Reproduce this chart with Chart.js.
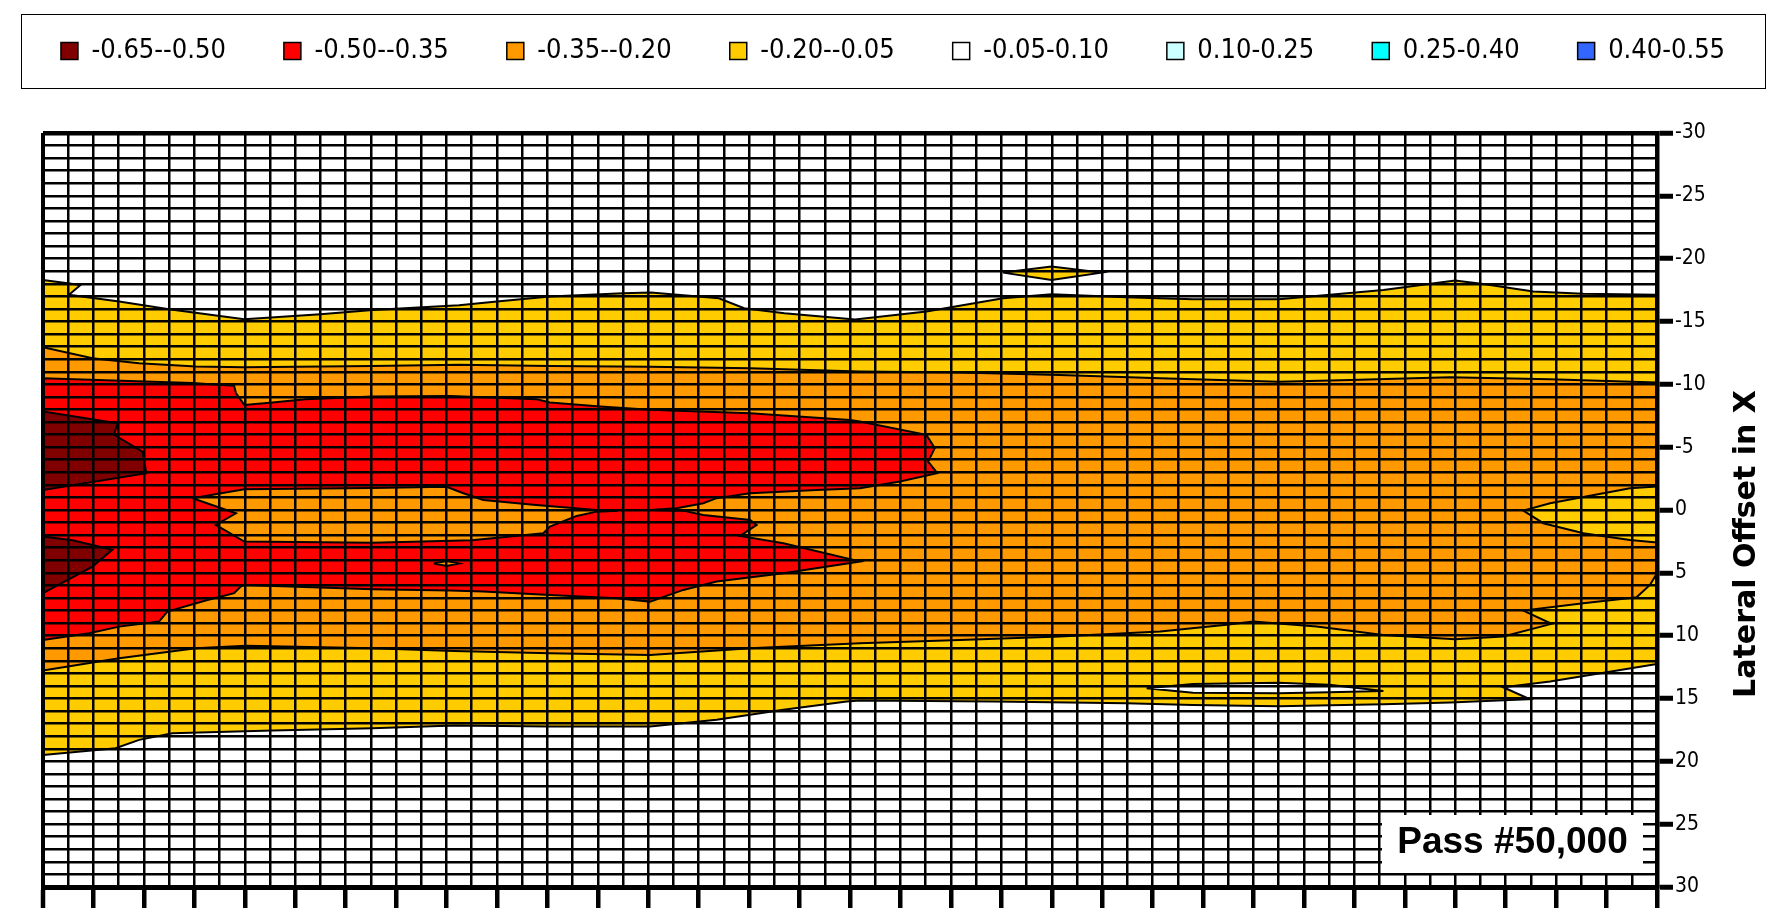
<!DOCTYPE html>
<html>
<head>
<meta charset="utf-8">
<title>Pass #50,000 - Lateral Offset in X</title>
<script src="https://cdn.jsdelivr.net/npm/chart.js@4.4.1/dist/chart.umd.min.js"></script>
<style>
  html, body { margin: 0; padding: 0; background: #ffffff; }
  canvas { display: block; }
</style>
</head>
<body>
<canvas id="contourChart" width="1786" height="908"></canvas>
<script>
// ==========================================
// Data
// ==========================================

// Contour bands shown in the legend
const bandLabels = ['-0.65--0.50', '-0.50--0.35', '-0.35--0.20', '-0.20--0.05',
                    '-0.05-0.10', '0.10-0.25', '0.25-0.40', '0.40-0.55'];

// Axis texts
const yTitle = 'Lateral Offset in X';
const passLabel = 'Pass #50,000';
const yTickLabels = [-30, -25, -20, -15, -10, -5, 0, 5, 10, 15, 20, 25, 30];

// Contour outlines as [column, lateral offset] pairs (column 0..64)
const yellowBand = [
    [0, -18.31], [1.49, -17.91], [1.03, -17.12], [3.02, -16.59], [5.0, -15.98], [7.98, -15.18],
    [11.0, -15.58], [13.07, -15.92], [16.5, -16.3], [18.0, -16.6], [20.1, -16.98], [23.0, -17.25],
    [24.1, -17.3], [26.8, -16.85], [27.8, -16.06], [29.4, -15.66], [32.2, -15.15], [35.03, -15.79],
    [38.07, -16.85], [39.99, -17.17], [42.96, -16.93], [45.6, -16.77], [49.0, -16.77], [51.03, -17.12],
    [53.15, -17.51], [55.99, -18.26], [57.11, -17.99], [59.1, -17.38], [61.08, -17.2], [64, -17.12],
    [64, 12.25], [59.76, 13.65], [57.9, 14.1], [58.96, 15.06], [55.8, 15.32], [53.15, 15.45],
    [49.0, 15.62], [45.6, 15.51], [42.96, 15.38], [37.68, 15.24], [32.39, 15.16], [31.87, 15.24],
    [29.36, 15.9], [26.71, 16.7], [24.07, 17.23], [20.1, 17.23], [16.3, 17.15], [13.07, 17.37],
    [9.1, 17.55], [5.13, 17.76], [3.81, 18.29], [2.88, 18.96], [0, 19.49]
];

const orangeBand = [
    [0, -12.95], [1.96, -12.08], [3.81, -11.68], [6.06, -11.41], [7.98, -11.36], [13.07, -11.45],
    [16.5, -11.55], [20.1, -11.45], [24.07, -11.4], [28.04, -11.28], [32.39, -11.02], [36.35, -10.94],
    [40.32, -10.75], [44.3, -10.49], [49.0, -10.2], [51.83, -10.35], [55.79, -10.56], [59.76, -10.41],
    [64, -10.14],
    [64, -1.87], [62.93, -1.73], [59.76, -0.54], [58.7, 0.05], [59.49, 1.05], [61.08, 1.85],
    [62.93, 2.38], [64, 2.59],
    [64, 5.03], [63.72, 5.96], [63.19, 6.94], [61.08, 7.42], [58.7, 8.0], [59.82, 9.06], [57.9, 10.07],
    [55.99, 10.28], [53.15, 9.94], [50.5, 9.28], [47.99, 8.88], [46.93, 9.14], [44.3, 9.67],
    [40.32, 10.07], [36.35, 10.34], [32.39, 10.6], [28.04, 11.0], [24.07, 11.53], [20.1, 11.4],
    [16.3, 11.22], [13.07, 11.0], [8.05, 10.81], [6.06, 11.0], [3.02, 11.8], [0, 12.78]
];

const redBand = [
    [0, -10.49], [5.93, -10.1], [7.58, -9.88], [7.65, -9.3], [7.98, -8.36], [9.1, -8.55], [10.4, -8.81],
    [13.07, -9.03], [16.14, -9.08], [19.58, -8.81], [20.1, -8.55], [22.09, -8.23], [24.07, -7.97],
    [28.04, -7.7], [32.0, -7.17], [32.39, -7.04], [35.03, -5.98], [35.36, -4.92], [35.1, -3.85],
    [35.46, -2.93], [33.98, -2.26], [32.39, -1.73], [30.68, -1.6], [28.04, -1.33], [26.71, -0.94],
    [26.18, -0.54], [25.13, -0.14], [24.07, 0.0],
    [25.39, 0.05], [26.18, 0.39], [28.04, 0.79], [28.3, 1.19], [27.64, 2.06], [29.36, 2.64], [32.4, 4.1],
    [29.36, 5.03], [26.71, 5.69], [25.39, 6.36], [24.07, 7.29], [22.75, 7.02], [20.1, 6.76],
    [17.46, 6.49], [16.14, 6.4], [13.07, 6.3], [7.98, 5.96], [7.84, 6.09], [7.58, 6.62], [6.45, 7.2],
    [4.93, 8.08], [4.6, 8.88], [3.02, 9.28], [1.83, 9.8], [0, 10.34]
];

const orangeIsland = [
    [5.93, -0.94], [7.98, -1.65], [13.07, -1.75], [16.0, -1.85], [16.67, -1.33], [17.46, -0.8],
    [19.44, -0.41], [21.95, 0.0], [22.8, 0.05], [21.95, 0.13], [21.16, 0.47], [20.1, 1.32],
    [19.84, 1.85], [17.0, 2.4], [13.07, 2.6], [7.98, 2.51], [6.85, 1.19], [7.65, 0.26]
];

const orangeSpot = [[15.5, 4.25], [16.0, 4.05], [16.5, 4.25], [16.0, 4.45]];

const darkRedUpper = [[0, -7.83], [2.0, -7.2], [2.95, -6.9], [2.82, -5.98], [3.94, -4.65], [4.1, -2.93], [0, -1.6]];
const darkRedLower = [[0, 2.11], [1.17, 2.4], [2.75, 3.17], [1.96, 4.5], [0, 6.62]];

const yellowIsland = [[38.07, -18.89], [39.99, -19.37], [41.97, -18.89], [39.99, -18.31]];
const whiteLens = [[43.76, 14.18], [45.6, 13.85], [49.0, 13.75], [51.0, 13.9], [53.15, 14.4],
                   [51.0, 14.5], [49.0, 14.58], [45.6, 14.55]];

// ==========================================
// Styles
// ==========================================
const bandColors = ['#800000', '#ff0000', '#ff9900', '#ffcc00', '#ffffff', '#ccffff', '#00ffff', '#3366ff'];
const condensed = '"DejaVu Sans Condensed", "DejaVu Sans", sans-serif';

// Painter's order: first drawn at the bottom
const capas = [
    { puntos: yellowBand, color: bandColors[3] },
    { puntos: orangeBand, color: bandColors[2] },
    { puntos: redBand, color: bandColors[1] },
    { puntos: orangeIsland, color: bandColors[2] },
    { puntos: orangeSpot, color: bandColors[2] },
    { puntos: darkRedUpper, color: bandColors[0] },
    { puntos: darkRedLower, color: bandColors[0] },
    { puntos: yellowIsland, color: bandColors[3] },
    { puntos: whiteLens, color: bandColors[4] }
];

// close the outline so the stroke goes all the way round
const cerrar = pts => pts.concat([pts[0]]).map(([x, y]) => ({ x, y }));

const datasets = capas.map((c, i) => ({
    data: cerrar(c.puntos),
    xAxisID: 'x',
    yAxisID: 'y',
    showLine: true,
    fill: 'shape',
    backgroundColor: c.color,
    borderColor: '#000000',
    borderWidth: 2,
    pointRadius: 0,
    tension: 0,
    order: capas.length - i
}));

// ==========================================
// Extra drawing: legend frame, pass box, rotated title
// ==========================================
const decorPlugin = {
    id: 'decor',
    afterDraw(chart) {
        const { ctx, chartArea, legend } = chart;
        ctx.save();

        // frame around the legend
        const cajas = legend.legendHitBoxes;
        if (cajas && cajas.length) {
            const primero = cajas[0];
            const ultimo = cajas[cajas.length - 1];
            const centroY = primero.top + primero.height / 2;
            const izq = primero.left - 40;
            const der = ultimo.left + ultimo.width + 40;
            ctx.strokeStyle = '#000';
            ctx.lineWidth = 1;
            ctx.strokeRect(Math.round(izq) + 0.5, Math.round(centroY - 37) + 0.5, Math.round(der - izq), 74);
        }

        // "Pass #50,000" box
        const cajaW = 261, cajaH = 58;
        const cx = chartArea.right - 14 - cajaW;
        const cy = chartArea.bottom - 14 - cajaH;
        ctx.fillStyle = '#ffffff';
        ctx.fillRect(cx, cy, cajaW, cajaH);
        ctx.fillStyle = '#000';
        ctx.font = 'bold 37px "Liberation Sans", Arial, sans-serif';
        ctx.textAlign = 'center';
        ctx.textBaseline = 'alphabetic';
        ctx.fillText(passLabel, cx + cajaW / 2, cy + 38);

        // axis title, reading bottom to top
        ctx.translate(chartArea.right + 98, (chartArea.top + chartArea.bottom) / 2 + 34);
        ctx.rotate(-Math.PI / 2);
        ctx.font = 'bold 30px "DejaVu Sans", sans-serif';
        ctx.textAlign = 'center';
        ctx.textBaseline = 'alphabetic';
        ctx.fillText(yTitle, 0, 0);

        ctx.restore();
    }
};

// ==========================================
// Chart
// ==========================================
Chart.defaults.color = '#000';

const chart = new Chart(document.getElementById('contourChart').getContext('2d'), {
    type: 'scatter',
    data: { datasets },
    options: {
        responsive: false,
        animation: false,
        devicePixelRatio: 1,
        layout: { padding: { top: -20.5, left: 0, right: 0, bottom: 0 } },
        plugins: {
            tooltip: { enabled: false },
            legend: {
                position: 'top',
                onClick: null,
                labels: {
                    boxWidth: 17,
                    boxHeight: 17,
                    padding: 58,
                    color: '#000',
                    font: { family: condensed, size: 27 },
                    generateLabels: () => bandLabels.map((texto, i) => ({
                        text: texto,
                        fillStyle: bandColors[i],
                        strokeStyle: '#000',
                        lineWidth: 1.5,
                        hidden: false,
                        index: i
                    }))
                }
            }
        },
        scales: {
            x: {
                type: 'linear',
                position: 'bottom',
                min: 0,
                max: 64,
                ticks: { stepSize: 1, display: false },
                grid: {
                    z: 1,
                    color: '#000',
                    lineWidth: c => (c.tick && c.tick.value === 0 ? 4 : 2.5),
                    drawTicks: true,
                    tickLength: 21,
                    tickWidth: 4.5,
                    tickColor: c => (c.tick && c.tick.value % 2 === 0 ? '#000' : 'rgba(0,0,0,0)')
                },
                border: { display: true, color: '#000', width: 5, z: 2 },
                afterFit: s => { s.height = 21; }
            },
            xTop: {
                type: 'linear',
                axis: 'x',
                position: 'top',
                display: true,
                ticks: { display: false },
                grid: { display: false, drawTicks: false },
                border: { display: false },
                afterFit: s => { s.height = 58.5; }
            },
            yLeft: {
                type: 'linear',
                axis: 'y',
                position: 'left',
                display: true,
                ticks: { display: false },
                grid: { display: false, drawTicks: false },
                border: { display: false },
                afterFit: s => { s.width = 43; }
            },
            y: {
                type: 'linear',
                position: 'right',
                min: -30,
                max: 30,
                reverse: true,
                ticks: {
                    stepSize: 1,
                    autoSkip: false,
                    padding: 2,
                    color: '#000',
                    font: { family: condensed, size: 21 },
                    callback: v => (yTickLabels.includes(v) ? String(v) : '')
                },
                grid: {
                    z: 1,
                    color: '#000',
                    lineWidth: c => (c.tick && c.tick.value === -30 ? 4.5 : 2.5),
                    drawTicks: true,
                    tickLength: 16,
                    tickWidth: 5,
                    tickColor: c => (c.tick && yTickLabels.includes(c.tick.value) ? '#000' : 'rgba(0,0,0,0)')
                },
                border: { display: true, color: '#000', width: 4.5, z: 2 },
                afterFit: s => { s.width = 129; }
            }
        }
    },
    plugins: [decorPlugin]
});
</script>
</body>
</html>
